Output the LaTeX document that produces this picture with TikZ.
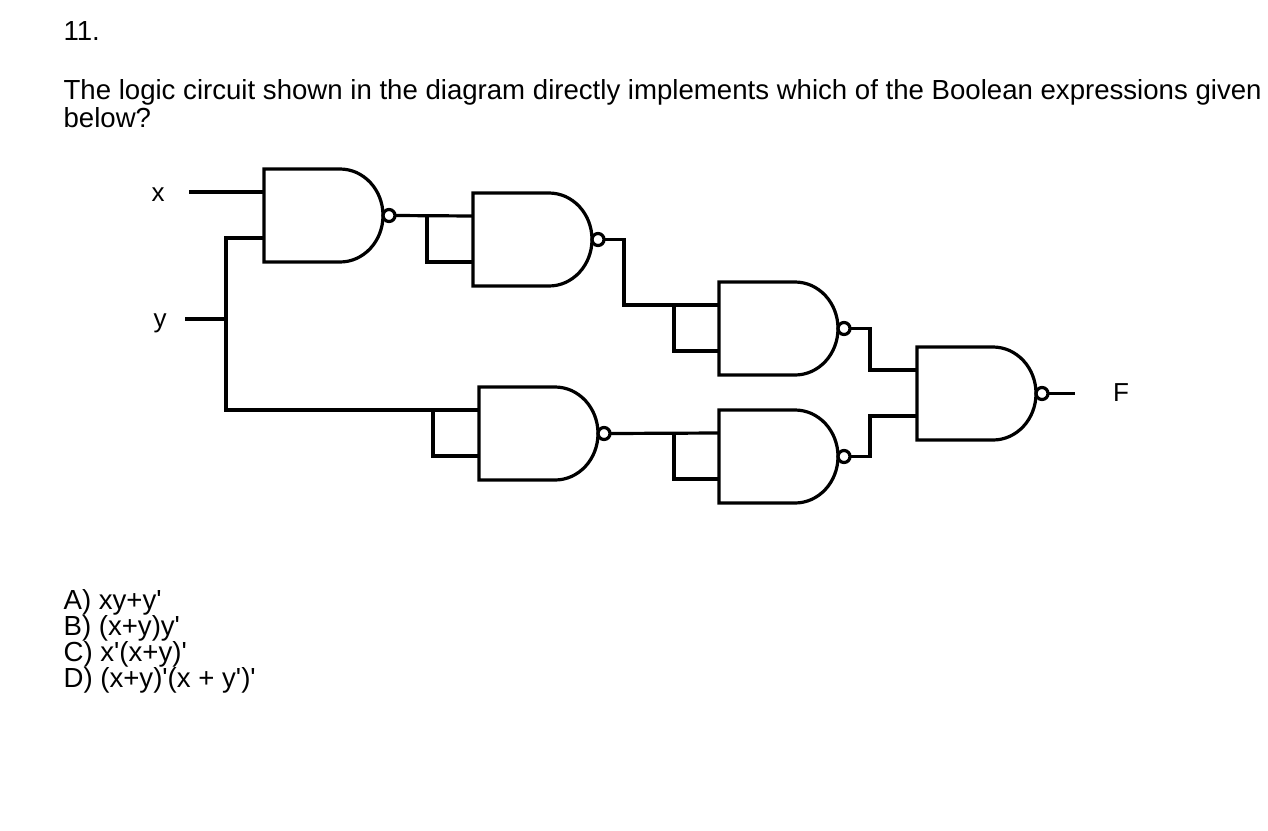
\documentclass[tikz,border=0pt]{standalone}
\usepackage{fontspec}
\newfontfamily\qfont{Liberation Sans}
\begin{document}
\begin{tikzpicture}[x=1pt,y=-1pt,line width=3.2pt,
  wire/.style={draw,line join=miter},
  lbl/.style={font=\qfont\fontsize{27.6}{30}\selectfont,inner sep=0pt,anchor=west},
  clbl/.style={font=\qfont\fontsize{26}{30}\selectfont,inner sep=0pt}]
\useasboundingbox (0,0) rectangle (1268,830);
\newcommand\mygate[3]{%
  \draw (#2+76,#3) -- (#2,#3) -- (#2,#3+93) -- (#2+76,#3+93)
     arc[start angle=-90,end angle=90,x radius=43,y radius=-46.5] ;
  \draw (#2+125,#3+46.5) circle[radius=6];
  \coordinate (#1-a) at (#2,#3+23);
  \coordinate (#1-b) at (#2,#3+69);
  \coordinate (#1-o) at (#2+131,#3+46.5);
}
\node[lbl] (num) at (62,31) {11.};
\node[lbl] (q1) at (62,92) {The logic circuit shown in the diagram directly implements which of the Boolean expressions given};
\node[lbl] (q2) at (62,118) {below?};
\mygate{g1}{264}{169}
\mygate{g2}{473}{193}
\mygate{g3}{479}{387}
\mygate{g4}{719}{282}
\mygate{g5}{719}{410}
\mygate{g6}{917}{347}
\node[clbl] (x) at (158,195) {x};
\node[clbl] (y) at (160,323) {y};
\node[clbl] (F) at (1121,393) {F};
\coordinate (xw) at (189,192);
\coordinate (yw) at (185,319);
\coordinate (yj) at (226,319);
\draw[wire] (xw) -- (g1-a);
\draw[wire] (yw) -- (yj);
\draw[wire] (g1-b) -| (yj) |- (g3-a);
\draw[wire] (g1-o) -- (g2-a);
\draw[wire] (g2-a) ++(-46,0) |- (g2-b);
\draw[wire] (g3-a) ++(-46,0) |- (g3-b);
\draw[wire] (g2-o) -- ++(20,0) |- (g4-a);
\draw[wire] (g4-a) ++(-45,0) |- (g4-b);
\draw[wire] (g3-o) -- (g5-a);
\draw[wire] (g5-a) ++(-45,0) |- (g5-b);
\draw[wire] (g4-o) -- ++(20,0) |- (g6-a);
\draw[wire] (g5-o) -- ++(20,0) |- (g6-b);
\draw[wire] (g6-o) -- ++(27,0) coordinate (fo);
\node[lbl] (a) at (62,602) {A) xy+y'};
\node[lbl] (b) at (62,628) {B) (x+y)y'};
\node[lbl] (c) at (62,654) {C) x'(x+y)'};
\node[lbl] (d) at (62,680) {D) (x+y)'(x + y')'};
\end{tikzpicture}
\end{document}
